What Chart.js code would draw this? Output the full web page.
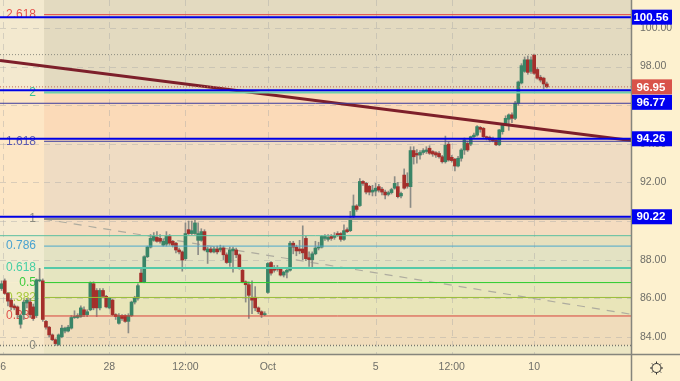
<!DOCTYPE html>
<html>
<head>
<meta charset="utf-8">
<style>
  html, body { margin: 0; padding: 0; background: #fdf1cf; }
  canvas { display: block; }
</style>
<script src="https://cdn.jsdelivr.net/npm/chart.js@4/dist/chart.umd.min.js"></script>
</head>
<body>
<canvas id="chart" width="680" height="381"></canvas>
<script>
// candles, oldest first (one per half hour, index = slot on the time axis)
var openVals = [
  86.5, 86.9, 86.25, 85.9, 85.6, 85.55, 84.65, 85.15, 85.75, 85.8,
  85.55, 85.1, 86.9, 86.9, 84.8, 84.5, 84.1, 83.85, 83.6, 84.0,
  84.3, 84.3, 84.45, 85.0, 85.0, 85.05, 85.4, 85.15, 85.4, 86.75,
  86.4, 85.5, 86.4, 86.1, 85.5, 85.9, 85.15, 84.7, 85.1, 85.1,
  84.8, 85.1, 85.8, 86.0, 87.3, 86.85, 88.15, 88.65, 89.0, 89.15,
  89.1, 88.75, 88.8, 89.2, 88.95, 88.85, 88.5, 88.4, 88.05, 89.55,
  89.35, 89.35, 89.0, 89.0, 89.45, 88.4, 88.55, 88.4, 88.55, 88.5,
  88.6, 88.25, 87.85, 88.45, 88.5, 88.25, 87.45, 86.85, 86.7, 86.05,
  86.05, 85.5, 85.3, 85.15, 86.3, 87.85, 87.6, 87.6, 87.5, 87.2,
  87.35, 87.45, 88.85, 88.65, 88.55, 88.55, 89.1, 88.1, 88.0, 88.3,
  88.6, 88.65, 89.1, 89.05, 89.2, 89.15, 89.35, 89.35, 89.05, 89.55,
  89.5, 90.22, 90.78, 90.8, 92.05, 91.95, 91.8, 91.5, 91.55, 91.78,
  91.65, 91.5, 91.38, 91.47, 91.7, 91.78, 91.3, 92.38, 91.95, 91.78,
  93.65, 93.5, 93.42, 93.55, 93.6, 93.77, 93.6, 93.54, 93.5, 93.33,
  93.07, 93.98, 93.3, 93.2, 92.85, 93.25, 93.68, 94.02, 93.98, 94.37,
  94.45, 94.85, 94.8, 94.37, 94.33, 94.28, 94.2, 93.95, 94.63, 95.03,
  95.27, 95.5, 95.32, 96.1, 97.15, 97.75, 98.35, 97.75, 98.6, 97.85,
  97.45, 97.4, 97.1
];
var highVals = [
  86.9, 87.0, 86.3, 86.0, 85.7, 85.6, 85.15, 85.9, 86.0, 86.0,
  85.7, 87.0, 87.55, 87.0, 84.85, 84.55, 84.15, 83.9, 84.15, 84.6,
  84.5, 84.6, 85.1, 85.35, 85.2, 85.6, 85.55, 85.4, 86.85, 86.85,
  86.5, 86.5, 86.5, 86.15, 86.05, 85.95, 85.2, 85.2, 85.15, 85.15,
  85.2, 85.85, 86.1, 86.75, 87.6, 88.2, 88.7, 89.3, 89.4, 89.45,
  89.3, 89.05, 89.45, 89.3, 89.0, 88.9, 88.6, 88.45, 89.9, 90.0,
  90.0, 90.05, 89.9, 89.6, 89.55, 88.65, 88.65, 88.65, 88.7, 88.75,
  88.7, 88.35, 88.65, 88.65, 88.6, 88.3, 87.5, 86.9, 86.85, 86.9,
  86.6, 85.55, 85.35, 85.3, 87.85, 87.9, 87.7, 87.7, 87.55, 87.4,
  87.5, 88.95, 88.95, 88.75, 89.0, 89.75, 89.2, 88.4, 88.4, 88.95,
  88.9, 89.25, 89.3, 89.3, 89.3, 89.4, 89.45, 89.4, 89.8, 89.65,
  90.5, 91.35, 90.85, 92.2, 92.1, 92.0, 91.85, 91.85, 91.95, 91.9,
  91.75, 91.6, 91.55, 91.7, 92.3, 92.0, 91.5, 92.7, 92.5, 93.85,
  93.85, 93.7, 93.65, 93.75, 93.85, 93.9, 93.65, 93.6, 93.6, 93.4,
  94.4, 94.1, 93.4, 93.25, 93.35, 93.75, 94.3, 94.15, 94.4, 94.55,
  94.95, 94.9, 94.85, 94.4, 94.4, 94.35, 94.25, 94.75, 95.05, 95.45,
  95.55, 95.6, 96.2, 97.25, 98.15, 98.5, 98.55, 98.5, 98.65, 97.95,
  97.55, 97.45, 97.2
];
var lowVals = [
  86.4, 86.2, 85.6, 85.4, 85.4, 85.0, 84.45, 84.9, 85.5, 85.0,
  84.85, 85.0, 86.85, 84.8, 84.4, 84.0, 83.8, 83.55, 83.55, 83.95,
  84.2, 84.25, 84.4, 84.95, 84.95, 85.0, 85.05, 85.05, 85.35, 85.4,
  85.05, 85.4, 86.05, 85.5, 85.45, 85.1, 84.9, 84.65, 84.85, 84.75,
  84.2, 85.05, 85.7, 85.9, 86.8, 86.8, 88.1, 88.6, 88.95, 88.9,
  88.85, 88.7, 88.7, 88.75, 88.65, 88.35, 88.3, 87.4, 87.95, 89.3,
  89.3, 89.3, 88.25, 88.95, 88.45, 87.8, 88.35, 88.35, 88.3, 88.4,
  88.0, 87.8, 87.65, 87.35, 88.1, 87.5, 86.8, 85.8, 84.95, 85.2,
  85.35, 85.2, 85.0, 85.1, 86.25, 87.2, 87.35, 87.4, 87.15, 87.1,
  87.05, 87.4, 88.3, 88.2, 88.3, 88.0, 87.95, 87.65, 87.6, 88.25,
  88.5, 88.6, 89.0, 88.95, 89.0, 89.05, 89.2, 88.95, 89.0, 89.4,
  89.45, 90.15, 90.5, 90.75, 91.85, 91.4, 91.35, 91.3, 91.3, 91.5,
  91.35, 91.15, 91.3, 91.4, 91.65, 91.2, 91.2, 91.65, 91.7, 90.7,
  92.95, 93.0, 93.2, 93.45, 93.5, 93.45, 93.35, 93.3, 93.25, 93.0,
  93.0, 93.1, 93.05, 92.6, 92.8, 93.1, 93.45, 93.6, 93.9, 94.3,
  94.4, 94.6, 94.3, 94.2, 94.1, 94.1, 93.9, 93.9, 94.5, 94.95,
  94.7, 95.1, 95.25, 96.0, 97.1, 97.7, 97.6, 97.65, 97.6, 97.35,
  97.2, 96.85, 96.9
];
var closeVals = [
  86.75, 86.25, 85.85, 85.55, 85.5, 85.15, 85.1, 85.8, 85.9, 85.15,
  84.95, 86.95, 86.95, 84.9, 84.5, 84.1, 83.85, 83.65, 84.1, 84.45,
  84.45, 84.5, 85.0, 85.05, 85.1, 85.5, 85.15, 85.3, 86.8, 85.5,
  85.5, 86.4, 86.1, 85.55, 86.0, 85.15, 85.05, 85.1, 84.95, 84.8,
  85.1, 85.8, 86.0, 86.65, 86.85, 88.15, 88.65, 89.1, 89.2, 88.95,
  88.95, 88.95, 89.2, 88.85, 88.75, 88.5, 88.4, 87.98, 89.35, 89.35,
  89.5, 89.9, 89.35, 89.45, 88.5, 88.55, 88.4, 88.55, 88.4, 88.6,
  88.25, 87.85, 88.5, 88.55, 88.25, 87.55, 86.85, 86.7, 86.15, 85.9,
  85.5, 85.3, 85.15, 85.2, 87.8, 87.3, 87.45, 87.5, 87.2, 87.35,
  87.45, 88.85, 88.65, 88.45, 88.45, 88.35, 88.05, 88.0, 88.3, 88.6,
  88.65, 89.2, 89.2, 89.15, 89.1, 89.25, 89.25, 89.05, 89.5, 89.45,
  90.15, 90.78, 90.6, 92.05, 91.95, 91.5, 91.5, 91.6, 91.7, 91.6,
  91.5, 91.35, 91.47, 91.63, 91.95, 91.26, 91.43, 91.7, 91.8, 93.65,
  93.33, 93.42, 93.55, 93.65, 93.68, 93.51, 93.47, 93.42, 93.33, 93.07,
  93.93, 93.16, 93.13, 92.85, 93.25, 93.68, 94.2, 93.68, 94.37, 94.45,
  94.89, 94.75, 94.37, 94.28, 94.2, 94.15, 93.95, 94.72, 94.97, 95.32,
  95.5, 95.32, 96.1, 97.2, 98.05, 98.35, 97.7, 98.35, 97.65, 97.4,
  97.3, 97.1, 96.95
];

// time axis
var timeTicks = [0.5, 34, 58, 84, 118, 142, 168];
var timeLabels = ['6', '28', '12:00', 'Oct', '5', '12:00', '10'];
var priceTicks = [84, 86, 88, 90, 92, 94, 96, 98, 100];

// horizontal drawings: value, first slot, colour, width, dash
var lineVals   = [100.56, 100.69, 98.62, 96.95, 96.77, 96.66, 96.1, 94.26, 94.13, 90.22, 90.1, 89.24, 88.7, 87.57, 86.81, 86.04, 85.08, 83.55];
var lineStarts = [-0.5, 13.4, -0.5, -0.5, -0.5, 13.4, -0.5, -0.5, 13.4, -0.5, 13.4, -0.5, 13.4, 13.4, 13.4, 13.4, 13.4, -0.5];
var lineColors = ['#0000e6', '#e5443f', '#8d8d80', '#c46a5a', '#0000e6', '#6fd0ac', '#3b3b9e', '#0000e6', '#3b3b9e', '#0000e6', '#8a8a8a', '#5cbf9f', '#4aa8cc', '#55c9a9', '#2ccc2c', '#98bd37', '#d8443c', '#77776e'];
var lineWidths = [2, 1, 1, 1, 2, 2, 1, 2, 1, 2, 2, 1, 1, 2, 1, 1, 1, 1.5];
var lineDashes = [[], [], [1, 2], [1, 2], [], [], [], [], [], [], [], [], [], [], [], [], [], [1, 2]];

// sloped trend lines
var maroonSlots = [-0.5, 198.55];
var maroonVals = [98.31, 94.17];
var greySlots = [13.4, 198.55];
var greyVals = [90.1, 85.17];

// fib zones, top down
var zoneTops = [101.45, 96.66, 94.13, 90.1, 89.24, 88.7, 87.57, 86.81, 86.04, 85.08, 83.55];
var zoneColors = ['#e3dac0', '#fbdab8', '#efdcc3', '#f4dcc0', '#e7e0be', '#e3e2c3', '#e5e5c0', '#e8e6bc', '#e9e5b9', '#f0dcbb', '#ece6c4'];
var zoneLeft = ['#f3e9cf', '#fde6c5', '#fde6c5', '#f6ead0', '#f1ebcf', '#f0ebd0', '#f1ebcf', '#f2eccd', '#f3ebca', '#f7e7c8', '#f4ebcd'];

// fib labels
var fibNames = ['2.618', '2', '1.618', '1', '0.786', '0.618', '0.5', '0.382', '0.236', '0'];
var fibVals = [100.69, 96.66, 94.13, 90.1, 88.7, 87.57, 86.81, 86.04, 85.08, 83.55];
var fibColors = ['#e5534b', '#35c29a', '#5a5ab0', '#8a8a80', '#4aa3d0', '#45cfa5', '#3ccc3c', '#a6c93a', '#e0524c', '#8a8a80'];

// price tags on the right axis
var tagVals = [100.56, 96.95, 96.77, 94.26, 90.22];
var tagColors = ['#0000f0', '#d9534a', '#0000f0', '#0000f0', '#0000f0'];
var tagShift = [0, 0, 12, 0, 0];

var slots = openVals.map(function (v, i) { return i; });

var datasets = [];
lineVals.forEach(function (v, i) {
    datasets.push({
        type: 'line',
        data: [{ x: lineStarts[i], y: v }, { x: 198.55, y: v }],
        borderColor: lineColors[i],
        borderWidth: lineWidths[i],
        borderDash: lineDashes[i],
        pointRadius: 0,
        order: 0
    });
});
datasets.push({
    type: 'line',
    data: maroonSlots.map(function (x, i) { return { x: x, y: maroonVals[i] }; }),
    borderColor: '#7d1f2a',
    borderWidth: 3,
    pointRadius: 0,
    order: 0
});
datasets.push({
    type: 'line',
    data: greySlots.map(function (x, i) { return { x: x, y: greyVals[i] }; }),
    borderColor: '#aeac9f',
    borderWidth: 1.2,
    borderDash: [8, 7],
    pointRadius: 0,
    order: 3
});
// wicks
datasets.push({
    type: 'bar',
    data: slots.map(function (i) { return { x: i, y: [lowVals[i], highVals[i]] }; }),
    backgroundColor: '#8c8c86',
    barThickness: 1,
    grouped: false,
    order: 2
});
// bodies
datasets.push({
    type: 'bar',
    data: slots.map(function (i) { return { x: i, y: [openVals[i], closeVals[i]] }; }),
    backgroundColor: slots.map(function (i) { return closeVals[i] >= openVals[i] ? '#3a8567' : '#a42f2b'; }),
    barThickness: 3,
    minBarLength: 1,
    grouped: false,
    order: 1
});

var drawingsPlugin = {
    id: 'drawings',
    beforeDatasetsDraw: function (chart) {
        var ctx = chart.ctx, a = chart.chartArea, y = chart.scales.y, x = chart.scales.x;
        var split = x.getPixelForValue(13.4);
        ctx.save();
        zoneTops.forEach(function (v, i) {
            var top = y.getPixelForValue(v);
            var bottom = i + 1 < zoneTops.length ? y.getPixelForValue(zoneTops[i + 1]) : a.bottom;
            ctx.fillStyle = zoneLeft[i];
            ctx.fillRect(0, top, split, bottom - top);
            ctx.fillStyle = zoneColors[i];
            ctx.fillRect(split, top, a.right - split, bottom - top);
        });
        // grid goes on top of the zones
        ctx.strokeStyle = 'rgba(165,165,165,0.4)';
        ctx.lineWidth = 1;
        ctx.setLineDash([6, 5]);
        priceTicks.forEach(function (v) {
            var py = Math.round(y.getPixelForValue(v)) + 0.5;
            ctx.beginPath(); ctx.moveTo(0, py); ctx.lineTo(a.right, py); ctx.stroke();
        });
        timeTicks.forEach(function (v) {
            var px = Math.round(x.getPixelForValue(v)) + 0.5;
            ctx.beginPath(); ctx.moveTo(px, 0); ctx.lineTo(px, a.bottom); ctx.stroke();
        });
        ctx.setLineDash([]);
        ctx.font = '12px "Liberation Sans"';
        ctx.textAlign = 'right';
        ctx.textBaseline = 'middle';
        fibNames.forEach(function (name, i) {
            ctx.fillStyle = fibColors[i];
            ctx.fillText(name, 36, y.getPixelForValue(fibVals[i]));
        });
        ctx.restore();
    },
    afterDraw: function (chart) {
        var ctx = chart.ctx, a = chart.chartArea, y = chart.scales.y;
        ctx.save();
        // axis frame
        ctx.strokeStyle = '#85857c';
        ctx.lineWidth = 1.5;
        ctx.beginPath();
        ctx.moveTo(a.right + 0.5, 0); ctx.lineTo(a.right + 0.5, 381);
        ctx.moveTo(0, a.bottom + 0.5); ctx.lineTo(680, a.bottom + 0.5);
        ctx.stroke();
        // price tags
        ctx.font = 'bold 11.5px "Liberation Sans"';
        ctx.textAlign = 'center';
        ctx.textBaseline = 'middle';
        tagVals.forEach(function (v, i) {
            var py = y.getPixelForValue(v) + tagShift[i];
            ctx.fillStyle = tagColors[i];
            ctx.fillRect(a.right + 1, py - 7.5, 40, 15);
            ctx.fillStyle = '#ffffff';
            ctx.fillText(v.toFixed(2), a.right + 20, py + 0.5);
        });
        // settings icon
        ctx.strokeStyle = '#2e2e2e';
        ctx.lineWidth = 1;
        ctx.beginPath();
        ctx.arc(656.5, 368, 4.5, 0, Math.PI * 2);
        for (var k = 0; k < 8; k++) {
            var t = k * Math.PI / 4;
            ctx.moveTo(656.5 + Math.cos(t) * 4.5, 368 + Math.sin(t) * 4.5);
            ctx.lineTo(656.5 + Math.cos(t) * 6.5, 368 + Math.sin(t) * 6.5);
        }
        ctx.stroke();
        ctx.restore();
    }
};

new Chart(document.getElementById('chart').getContext('2d'), {
    type: 'bar',
    data: { datasets: datasets },
    options: {
        responsive: false,
        animation: false,
        layout: { padding: 0 },
        plugins: { legend: { display: false }, tooltip: { enabled: false } },
        scales: {
            x: {
                type: 'linear',
                offset: false,
                min: -0.5,
                max: 198.55,
                grid: { display: false, drawTicks: false },
                border: { display: false },
                afterFit: function (s) { s.height = 27; s.paddingLeft = 0; s.paddingRight = 0; },
                afterBuildTicks: function (s) {
                    s.ticks = timeTicks.map(function (v) { return { value: v }; });
                },
                ticks: {
                    autoSkip: false,
                    maxRotation: 0,
                    color: '#6e6e68',
                    padding: 7,
                    font: { family: 'Liberation Sans', size: 10.5 },
                    callback: function (v) { return timeLabels[timeTicks.indexOf(v)]; }
                }
            },
            y: {
                position: 'right',
                min: 83.11,
                max: 101.45,
                grid: { display: false, drawTicks: false },
                border: { display: false },
                afterFit: function (s) { s.width = 49; s.paddingTop = 0; s.paddingBottom = 0; },
                afterBuildTicks: function (s) {
                    s.ticks = priceTicks.map(function (v) { return { value: v }; });
                },
                ticks: {
                    color: '#6e6e68',
                    padding: 9,
                    font: { family: 'Liberation Sans', size: 10.5 },
                    callback: function (v) { return v.toFixed(2); }
                }
            }
        }
    },
    plugins: [drawingsPlugin]
});
</script>
</body>
</html>
